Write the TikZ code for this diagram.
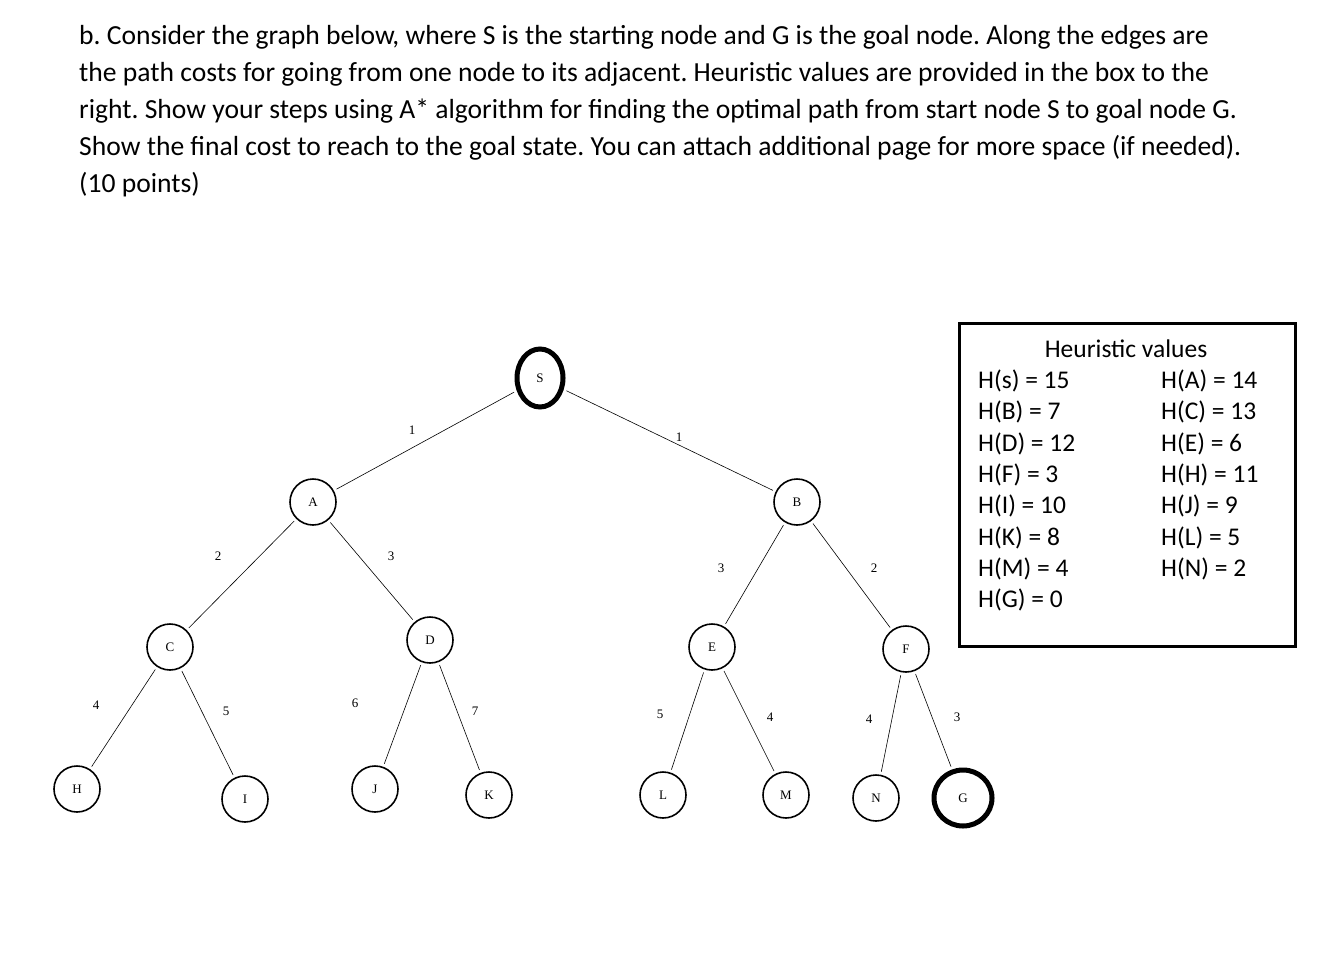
\documentclass[tikz,border=0pt]{standalone}
\usepackage{fontspec}
\setmainfont{Carlito}
\newfontfamily\tms{Liberation Serif}
\usetikzlibrary{shapes.geometric}
\frenchspacing
\begin{document}
\begin{tikzpicture}[x=1pt,y=-1pt,
 nd/.style={circle,draw,line width=1.6pt,minimum size=46pt,inner sep=0pt,font=\tms\fontsize{13}{13}\selectfont},
 big/.style={ellipse,draw,line width=5pt,minimum width=46pt,minimum height=58pt,inner sep=0pt,font=\tms\fontsize{13}{13}\selectfont},
 ed/.style={line width=0.6pt,shorten <=3pt,shorten >=3pt},
 lb/.style={font=\tms\fontsize{13}{13}\selectfont},
 tx/.style={anchor=west,font=\fontsize{27.6}{27.6}\selectfont,inner sep=0pt},
 hv/.style={anchor=west,font=\fontsize{25.5}{25.5}\selectfont,inner sep=0pt}]
\useasboundingbox (0,0) rectangle (1343,953);
\foreach \t [count=\i] in {{b. Consider the graph below, where S is the starting node and G is the goal node. Along the edges are},
 {the path costs for going from one node to its adjacent. Heuristic values are provided in the box to the},
 {right. Show your steps using A* algorithm for finding the optimal path from start node S to goal node G.},
 {Show the final cost to reach to the goal state. You can attach additional page for more space (if needed).},
 {(10 points)}}
 \node[tx] (t\i) at (79,{37+36.8*(\i-1)}) {\t};
\node[big] (S) at (540,378) {S};
\node[nd] (A) at (313,502) {A};
\node[nd] (B) at (797,502) {B};
\node[nd] (C) at (170,647) {C};
\node[nd] (D) at (430,640) {D};
\node[nd] (E) at (712,647) {E};
\node[nd] (F) at (906,649) {F};
\node[nd] (H) at (77,789) {H};
\node[nd] (I) at (245,799) {I};
\node[nd] (J) at (375,789) {J};
\node[nd] (K) at (489,795) {K};
\node[nd] (L) at (663,795) {L};
\node[nd] (M) at (786,795) {M};
\node[nd] (N) at (876,798) {N};
\node[big,minimum width=58pt,minimum height=56pt] (G) at (963,798) {G};
\draw[ed] (S)--(A); \draw[ed] (S)--(B);
\draw[ed] (A)--(C); \draw[ed] (A)--(D);
\draw[ed] (B)--(E); \draw[ed] (B)--(F);
\draw[ed] (C)--(H); \draw[ed] (C)--(I);
\draw[ed] (D)--(J); \draw[ed] (D)--(K);
\draw[ed] (E)--(L); \draw[ed] (E)--(M);
\draw[ed] (F)--(N); \draw[ed] (F)--(G);
\foreach \x/\y/\v [count=\i] in {412/430/1,679/437/1,218/556/2,391/556/3,721/568/3,874/568/2,96/705/4,226/711/5,355/703/6,475/711/7,660/714/5,770/717/4,869/719/4,957/717/3}
 \node[lb] (l\i) at (\x,\y) {\v};
\node[draw,line width=3pt,minimum width=336pt,minimum height=323pt,anchor=north west] (box) at (958,322) {};
\node[font=\fontsize{25.5}{25.5}\selectfont] (ht) at (1126,349) {Heuristic values};
\foreach \a/\b [count=\i] in {H(s) = 15/H(A) = 14,H(B) = 7/H(C) = 13,H(D) = 12/H(E) = 6,H(F) = 3/H(H) = 11,H(I) = 10/H(J) = 9,H(K) = 8/H(L) = 5,H(M) = 4/H(N) = 2}{
 \node[hv] (ha\i) at (978,{381+31.3*(\i-1)}) {\a};
 \node[hv] (hb\i) at (1161,{381+31.3*(\i-1)}) {\b};}
\node[hv] (hg) at (978,600) {H(G) = 0};
\end{tikzpicture}
\end{document}
